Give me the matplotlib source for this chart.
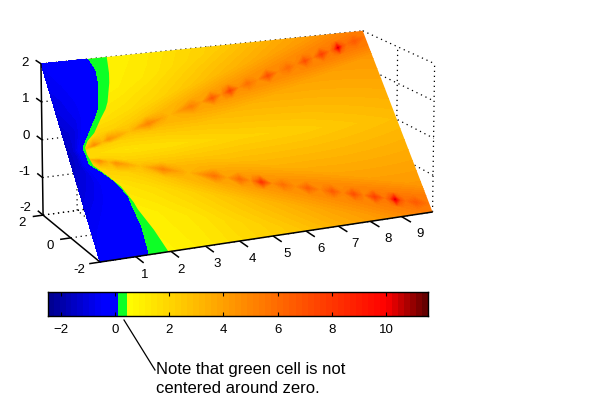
import numpy as np
import matplotlib
matplotlib.use("Agg")
import matplotlib.pyplot as plt
from matplotlib.colors import ListedColormap, BoundaryNorm
from matplotlib.patches import Polygon

plt.rcParams['font.family'] = ['Liberation Sans', 'DejaVu Sans']

# ---------- data ----------
x_ticks = [1, 2, 3, 4, 5, 6, 7, 8, 9]
y_ticks = [-2, 0, 2]
z_ticks = [-2, -1, 0, 1, 2]
cbar_ticks = [-2, 0, 2, 4, 6, 8, 10]
note_text = "Note that green cell is not\ncentered around zero."
cbar_min, green_lo, green_hi, cbar_max = -2.47, 0.12, 0.44, 11.55

# background of the field, one row per offset from the ray
bg_x = [0, .5, 1, 1.5, 2, 3, 4, 5, 6, 7, 8, 9, 10]
bg_edge = [.5, .5, .5, .5, .6, .9, 1.2, 1.6, 2.0, 2.4, 2.9, 3.4, 3.9]
bg_out_far = [.5, .8, .9, 1.0, 1.1, 1.4, 1.9, 2.3, 2.7, 3.1, 3.5, 3.9, 4.2]
bg_out_mid = [.6, 1.2, 1.5, 1.6, 1.7, 2.1, 2.6, 3.1, 3.5, 3.9, 4.2, 4.5, 4.7]
bg_near = [.8, 1.8, 2.3, 2.2, 2.4, 3.0, 3.6, 4.1, 4.4, 4.7, 5.0, 5.3, 5.5]
bg_in_mid = [.8, 1.8, 2.0, 1.9, 2.0, 2.3, 2.7, 3.1, 3.4, 3.7, 3.9, 4.1, 4.3]
bg_center = [.8, 1.9, 1.7, 1.5, 1.5, 1.6, 1.9, 2.1, 2.2, 2.3, 2.5, 2.7, 2.9]

# value along the two bright rays
ray_x = [0, .5, .8, 1.05, 1.25, 1.9, 2.5, 3.2, 3.9, 4.25, 4.6, 4.9, 5.2, 5.5, 5.8, 6.15,
         6.5, 6.85, 7.2, 7.5, 7.8, 8.1, 8.4, 8.7, 8.85, 9.0, 9.15, 9.3, 9.6, 10]
ray_upper = [.8, 2.5, 4.6, 3.0, 4.4, 2.8, 5.0, 3.2, 5.2, 4.0, 6.6, 4.5, 7.4, 4.6, 5.8, 4.6,
             7.0, 4.8, 6.0, 4.9, 7.0, 5.1, 7.6, 5.5, 6.8, 10.4, 6.8, 5.8, 6.6, 5.5]
ray_lower = [.8, 2.5, 4.6, 3.0, 4.4, 2.8, 5.0, 3.2, 5.6, 4.0, 6.0, 4.5, 8.0, 4.6, 5.8, 4.6,
             6.4, 4.8, 6.6, 4.9, 7.0, 5.1, 7.6, 5.5, 6.8, 10.4, 6.8, 5.8, 6.6, 5.5]

# blue / green region edges
blue_y = [-2.0, -1.44, -1.09, -.85, -.55, -.32, -.13, .07, .18, .27, .53, .83, .96, 1.2, 1.49, 1.75, 2.0]
blue_edge = [1.35, 1.38, 1.30, 1.27, 1.05, .75, .46, .46, .42, .49, .76, 1.08, 1.20, 1.30, 1.42, 1.46, 1.34]
green_y = [-2.0, -1.55, -1.11, -.97, -.63, -.39, -.16, .07, .21, .34, .48, .75, .93, 1.07, 1.46, 1.66, 2.0]
green_edge = [1.93, 1.72, 1.45, 1.40, 1.18, .90, .60, .52, .52, .65, .90, 1.20, 1.42, 1.54, 1.76, 1.84, 1.92]
blue_left = [-.5, -.6, -.8, -1, -1.2, -1.4, -1.6, -1.6, -1.6, -1.5, -1.4, -1.1, -1, -.9, -.7, -.6, -.5]
blue_mid = [-.2, -.3, -.4, -.5, -.7, -.9, -1.2, -1.2, -1.1, -1.1, -1, -.7, -.6, -.5, -.4, -.3, -.3]
blue_right = [0] * 17

# ---------- camera: world corners and where they land on the canvas ----------
world = np.array([(0, -2, -2), (0, 2, -2), (0, 2, 2), (10, 2, 2), (10, -2, -2),
                  (10, -2, 2), (10, 0, 2), (0, 0, -2),
                  (2, -2, -2), (6, -2, -2), (9, -2, -2)], float)
canvas = np.array([(100, 262), (43, 215), (41, 64), (362, 30), (431, 212),
                   (434, 63), (399, 48), (71, 238),
                   (170, 251), (307, 231), (403, 217)], float)
A = []
for (X, Y, Z), (u, v) in zip(world, canvas):
    A.append([X, Y, Z, 1, 0, 0, 0, 0, -u*X, -u*Y, -u*Z, -u])
    A.append([0, 0, 0, 0, X, Y, Z, 1, -v*X, -v*Y, -v*Z, -v])
P = np.linalg.svd(np.array(A))[2][-1].reshape(3, 4)


def project(x, y, z):
    x, y, z = np.broadcast_arrays(np.asarray(x, float), np.asarray(y, float), np.asarray(z, float))
    w = P[2, 0]*x + P[2, 1]*y + P[2, 2]*z + P[2, 3]
    return ((P[0, 0]*x + P[0, 1]*y + P[0, 2]*z + P[0, 3]) / w,
            (P[1, 0]*x + P[1, 1]*y + P[1, 2]*z + P[1, 3]) / w)


# ---------- colours ----------
levels = np.concatenate([np.linspace(cbar_min, green_lo, 13),
                         np.linspace(green_hi, cbar_max, 51)])
mids = (levels[:-1] + levels[1:]) / 2
colors = []
for m in mids:
    if m < green_lo:
        colors.append((0, 0, .55 + .45*min(1, (m - cbar_min)/2.0)))
    elif m < green_hi:
        colors.append((.05, 1, .15))
    elif m < 10:
        colors.append((1, (10 - m)/(10 - green_hi), 0))
    else:
        colors.append((1 - .65*(m - 10)/(cbar_max - 10), 0, 0))
cmap = ListedColormap(colors)
norm = BoundaryNorm(levels, cmap.N)

fig = plt.figure(figsize=(6, 4.13), dpi=100, facecolor='white')
ax = fig.add_axes([0, 0, 1, 1])
ax.set_xlim(0, 600)
ax.set_ylim(413, 0)
ax.axis('off')

# ---------- dotted box ----------
dot = dict(color='k', lw=.9, ls=(0, (1, 3)), zorder=1)


def seg(p, q, **kw):
    sx, sy = project(*zip(p, q))
    ax.plot(sx, sy, **kw)


for k in z_ticks:
    seg((0, 2, k), (10, 2, k), **dot)
    seg((10, 2, k), (10, -2, k), **dot)
for k in x_ticks:
    seg((k, 2, -2), (k, 2, 2), **dot)
    seg((k, -2, -2), (k, 2, -2), **dot)
for k in y_ticks:
    seg((0, k, -2), (10, k, -2), **dot)
    seg((10, k, -2), (10, k, 2), **dot)

# ---------- surface (plane z = y) ----------
grid_x = np.unique(np.concatenate([bg_x, ray_x]))
ray_up = .10 + .176*grid_x
ray_lo = .07 - .19*grid_x
mid_y = (ray_up + ray_lo) / 2
half = (ray_up - ray_lo) / 2


def rows_for(ray_y, ray_vals, sign):
    ray_v = np.interp(grid_x, ray_x, ray_vals)
    ys = [ray_y + sign*2.3, ray_y + sign*.9, ray_y + sign*.4, ray_y + sign*.15, ray_y,
          ray_y - sign*np.minimum(.15, .3*half), ray_y - sign*np.minimum(.4, .6*half)]
    vs = [bg_edge, bg_out_far, bg_out_mid, bg_near, None, bg_near, bg_in_mid]
    vals = [ray_v if v is None else np.interp(grid_x, bg_x, v) for v in vs]
    return ys, vals


yu, vu = rows_for(ray_up, ray_upper, 1)
yl, vl = rows_for(ray_lo, ray_lower, -1)
Y = np.array(yl + [mid_y] + yu[::-1])
C = np.array(vl + [np.interp(grid_x, bg_x, bg_center)] + vu[::-1])
XX = np.tile(grid_x, (Y.shape[0], 1))
SX, SY = project(XX, Y, Y)

qx, qy = project([0, 10, 10, 0], [-2, -2, 2, 2], [-2, -2, 2, 2])
clip = Polygon(np.c_[qx, qy], closed=True, transform=ax.transData, fc='none', ec='none')
ax.add_patch(clip)
cs = ax.contourf(SX, SY, C, levels=levels, cmap=cmap, norm=norm, zorder=2)
cs.set_clip_path(clip)

# green band
by = np.array(blue_y); be = np.array(blue_edge)
gy = np.array(green_y); ge = np.array(green_edge)
gx_poly = np.r_[ge, be[::-1]]
gy_poly = np.r_[gy, by[::-1]]
px, py = project(gx_poly, gy_poly, gy_poly)
ax.fill(px, py, color=colors[12], zorder=3, lw=0)

# blue region
fr = np.array([0, .5, 1.0])
BX = np.outer(be, fr)
BY = np.tile(by[:, None], (1, 3))
BC = np.c_[blue_left, blue_mid, blue_right]
bsx, bsy = project(BX, BY, BY)
ax.contourf(bsx, bsy, BC, levels=levels[:14], colors=colors[:13], zorder=4)

# ---------- solid axes, ticks, labels ----------
solid = dict(color='k', lw=1.1, zorder=6, solid_capstyle='butt')
seg((0, -2, -2), (10, -2, -2), **solid)
seg((0, -2, -2), (0, 2, -2), **solid)
seg((0, 2, -2), (0, 2, 2), **solid)
fs = 9.5
for k in x_ticks:
    seg((k, -2, -2), (k, -2.5, -2), **solid)
    sx, sy = project(k, -3.1, -2)
    ax.text(sx - 2 - .8*(9 - k), sy + 5, str(k), ha='center', va='center', fontsize=fs)
for k in y_ticks:
    seg((0, k, -2), (-.3, k, -2), **solid)
    sx, sy = project(0, k, -2)
    ax.text(sx - 21, sy + 8, str(k), ha='center', va='center', fontsize=fs)
for k in z_ticks:
    seg((0, 2, k), (0, 2.4, k), **solid)
    sx, sy = project(0, 2, k)
    ax.text(sx - 12, sy - 1 - 1.5*(2 - k), str(k), ha='right', va='center', fontsize=fs)

# ---------- colorbar ----------
cax = fig.add_axes([48/600, 1 - 316/413, 380/600, 24/413])
cax.pcolormesh(levels, [0, 1], mids[None, :], cmap=cmap, norm=norm)
cax.set_xlim(cbar_min, cbar_max)
cax.set_yticks([])
cax.set_xticks(cbar_ticks)
cax.tick_params(axis='x', direction='in', top=True, length=3, width=.8, labelsize=fs, pad=6)
for s in cax.spines.values():
    s.set_linewidth(1)

# ---------- note ----------
ax.plot([124, 155], [320, 370], color='k', lw=.9, zorder=6)
ax.text(156, 362, note_text, ha='left', va='top', fontsize=12, linespacing=1.35)

fig.savefig('out.png', dpi=100)
